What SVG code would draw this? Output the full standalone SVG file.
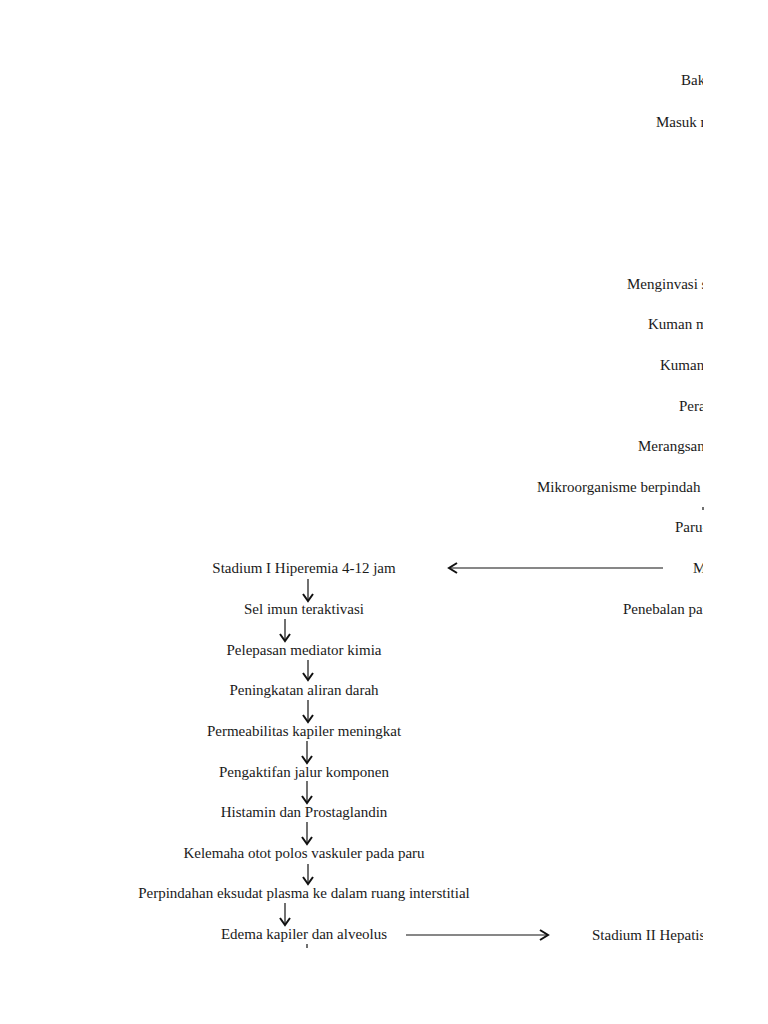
<svg xmlns="http://www.w3.org/2000/svg" width="768" height="1024" viewBox="0 0 768 1024">
<defs>
<style>
text{font-family:"Liberation Serif","DejaVu Serif",serif;font-size:15px;fill:#1a1a1a}
.c{text-anchor:middle}
.l{stroke:#111;stroke-width:1.2;fill:none}
.h{stroke:#111;stroke-width:2;fill:none}
</style>
<clipPath id="pg"><rect x="0" y="0" width="703" height="1024"/></clipPath>
</defs>
<rect width="768" height="1024" fill="#fff"/>
<g clip-path="url(#pg)">
<g id="n1"><text x="681" y="85">Bakteri</text></g>
<g id="n2"><text x="656" y="127">Masuk melalui</text></g>
<g id="n3"><text x="627" y="289">Menginvasi saluran</text></g>
<g id="n4"><text x="648" y="329">Kuman masuk</text></g>
<g id="n5"><text x="660" y="370">Kuman</text></g>
<g id="n6"><text x="679" y="411">Peradangan</text></g>
<g id="n7"><text x="638" y="451">Merangsang</text></g>
<g id="n8"><text x="537" y="492">Mikroorganisme berpindah ke</text></g>
<g id="n9"><text x="675" y="532">Paru-paru</text></g>
<g id="n10"><text x="693" y="573">Menuju</text></g>
<g id="n11"><text x="623" y="614">Penebalan paru</text></g>
<g id="n22"><text x="592" y="940">Stadium II Hepatisasi</text></g>
</g>
<g id="s1"><text class="c" x="304" y="573">Stadium I Hiperemia 4-12 jam</text></g>
<g id="s2"><text class="c" x="304" y="614">Sel imun teraktivasi</text></g>
<g id="s3"><text class="c" x="304" y="655">Pelepasan mediator kimia</text></g>
<g id="s4"><text class="c" x="304" y="695">Peningkatan aliran darah</text></g>
<g id="s5"><text class="c" x="304" y="736">Permeabilitas kapiler meningkat</text></g>
<g id="s6"><text class="c" x="304" y="777">Pengaktifan jalur komponen</text></g>
<g id="s7"><text class="c" x="304" y="817">Histamin dan Prostaglandin</text></g>
<g id="s8"><text class="c" x="304" y="858">Kelemaha otot polos vaskuler pada paru</text></g>
<g id="s9"><text class="c" x="304" y="898">Perpindahan eksudat plasma ke dalam ruang interstitial</text></g>
<g id="s10"><text class="c" x="304" y="939">Edema kapiler dan alveolus</text></g>
<g id="connectors">
<line class="l" x1="308" y1="579" x2="308" y2="601"/><path class="h" d="M303,594 L308,601 L313,594"/>
<line class="l" x1="285" y1="619" x2="285" y2="641"/><path class="h" d="M280,634 L285,641 L290,634"/>
<line class="l" x1="308" y1="660" x2="308" y2="680"/><path class="h" d="M303,673 L308,680 L313,673"/>
<line class="l" x1="308" y1="700" x2="308" y2="722"/><path class="h" d="M303,715 L308,722 L313,715"/>
<line class="l" x1="307" y1="741" x2="307" y2="763"/><path class="h" d="M302,756 L307,763 L312,756"/>
<line class="l" x1="307" y1="781" x2="307" y2="803"/><path class="h" d="M302,796 L307,803 L312,796"/>
<line class="l" x1="307" y1="822" x2="307" y2="844"/><path class="h" d="M302,837 L307,844 L312,837"/>
<line class="l" x1="308" y1="864" x2="308" y2="884"/><path class="h" d="M303,877 L308,884 L313,877"/>
<line class="l" x1="285" y1="903" x2="285" y2="925"/><path class="h" d="M280,918 L285,925 L290,918"/>
<line class="l" x1="663" y1="568" x2="449" y2="568"/><path class="h" d="M457,563 L449,568 L457,573"/>
<line class="l" x1="406" y1="935" x2="548" y2="935"/><path class="h" d="M540,930 L548,935 L540,940"/>
<line class="l" x1="703" y1="507" x2="703" y2="510"/>
<line class="l" x1="307" y1="944" x2="307" y2="948"/>
</g>
</svg>
